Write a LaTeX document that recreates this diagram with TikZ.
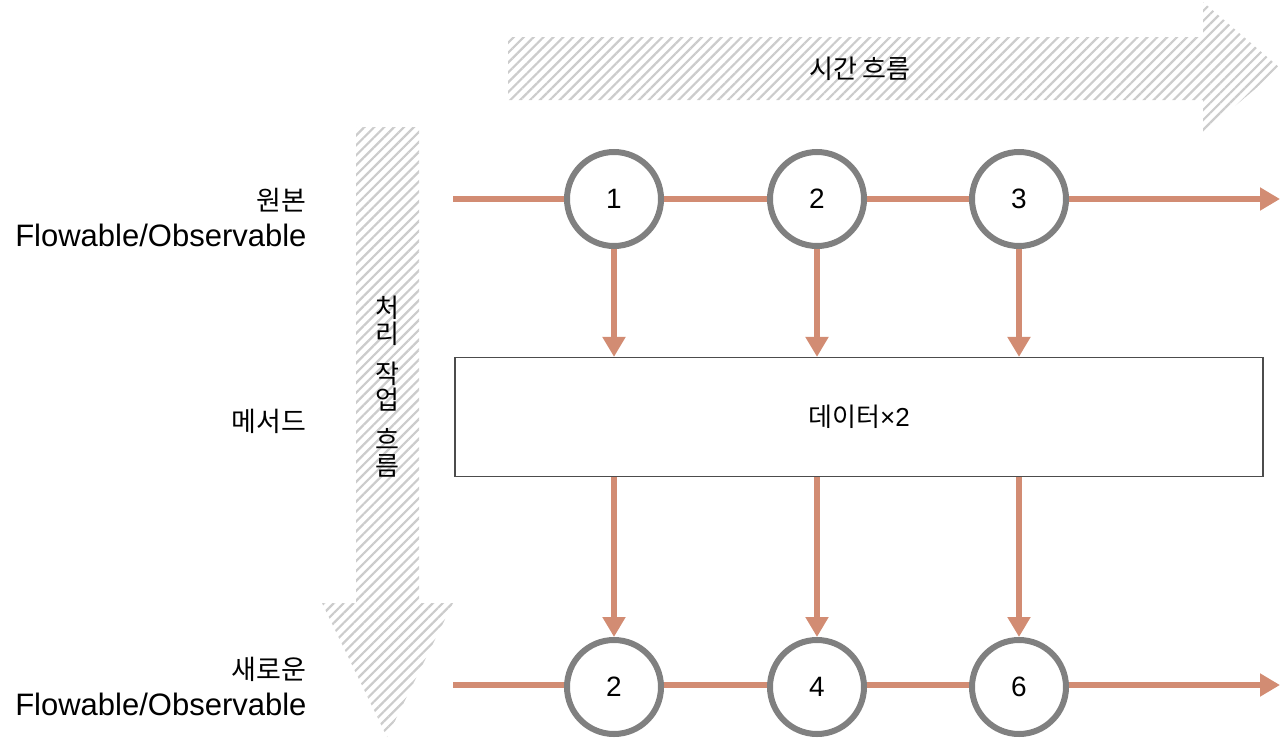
\documentclass[tikz,border=0pt]{standalone}
\usepackage{fontspec}
\setmainfont{Noto Sans CJK KR}
\newfontfamily\lat{Liberation Sans}
\usetikzlibrary{patterns.meta,arrows.meta}
\definecolor{ln}{RGB}{210,140,115}
\definecolor{cg}{RGB}{128,128,128}
\tikzset{
 hatch/.style={pattern={Lines[angle=45,distance=7pt,line width=2.2pt]},pattern color=gray!40,draw=none},
 circ/.style={circle,draw=cg,line width=6pt,fill=white,minimum size=94pt,inner sep=0pt,font=\lat\fontsize{28}{30}\selectfont},
 flow/.style={draw=ln,line width=6pt},
 farr/.style={flow,-{Triangle[length=20pt,width=22pt]}},
 lbl/.style={anchor=east,align=right,font=\fontsize{27}{36}\selectfont}
}
\begin{document}
\begin{tikzpicture}[x=1pt,y=-1pt]
\useasboundingbox (0,0) rectangle (1280,739);
\fill[hatch] (508,37) -- (1203,37) -- (1203,2) -- (1280,68) -- (1203,133) -- (1203,100) -- (508,100) -- cycle;
\node[font=\fontsize{26}{30}\selectfont] (tf) at (860,69) {시간 흐름};
\fill[hatch] (356,127) -- (419,127) -- (419,603) -- (453,603) -- (387,737) -- (322,603) -- (356,603) -- cycle;
\node[font=\fontsize{26}{30}\selectfont,align=center] (pf) at (387,387) {처\\[-4pt]리\\[10pt]작\\[-4pt]업\\[10pt]흐\\[-4pt]름};
\node[lbl] (l1) at (310,217) {원본\\{\lat\fontsize{31}{36}\selectfont Flowable/Observable}};
\node[lbl] (l2) at (310,421) {메서드};
\node[lbl] (l3) at (310,686) {새로운\\{\lat\fontsize{31}{36}\selectfont Flowable/Observable}};
\coordinate (s1) at (453,199); \coordinate (e1) at (1280,199);
\coordinate (s2) at (453,685); \coordinate (e2) at (1280,685);
\draw[farr] (s1) -- (e1);
\draw[farr] (s2) -- (e2);
\node[draw=black!70,line width=1.2pt,minimum width=808pt,minimum height=119pt,font=\fontsize{26}{30}\selectfont] (box) at (859,417) {데이터{\lat×2}};
\foreach \n/\x/\a/\b in {1/614/1/2,2/817/2/4,3/1019/3/6}{
 \node[circ] (t\n) at (\x,199) {\a};
 \node[circ] (b\n) at (\x,687) {\b};
 \draw[farr] (t\n.south) -- (t\n.south |- box.north) ;
 \draw[farr] (box.south -| b\n.north) -- (b\n.north);
}
\end{tikzpicture}
\end{document}
